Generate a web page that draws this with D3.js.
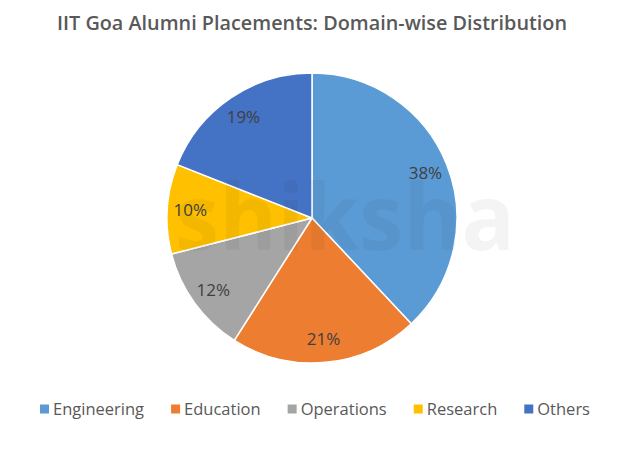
<!DOCTYPE html>
<html><head><meta charset="utf-8">
<script src="https://cdn.jsdelivr.net/npm/d3@7"></script>
<style>body{margin:0;background:#fff}svg{display:block}</style>
</head><body>
<svg id="chart" width="620" height="453"></svg>
<script>
const categories = ["Engineering", "Education", "Operations", "Research", "Others"];
const values = [38, 21, 12, 10, 19];
const colors = ["#5B9BD5", "#ED7D31", "#A5A5A5", "#FFC000", "#4472C4"];
const title = "IIT Goa Alumni Placements: Domain-wise Distribution";

const W = 620, H = 453;
const svg = d3.select("#chart");
svg.append("rect").attr("width", W).attr("height", H).attr("fill", "#fff");

const font = "'Open Sans', 'Liberation Sans', sans-serif";

svg.append("text").attr("x", 312).attr("y", 30).attr("text-anchor", "middle")
  .attr("font-family", font).attr("font-weight", 600).attr("font-size", 19)
  .attr("fill", "#595959").attr("textLength", 510).attr("lengthAdjust", "spacingAndGlyphs")
  .text(title);

const data = categories.map((c, i) => ({cat: c, value: values[i]}));
const color = d3.scaleOrdinal().domain(categories).range(colors);
const pie = d3.pie().value(d => d.value).sort(null);
const cx = 312, cy = 218, R = 145;
const arc = d3.arc().innerRadius(0).outerRadius(R);
const labelArc = d3.arc().innerRadius(122).outerRadius(122);

const g = svg.append("g").attr("transform", `translate(${cx},${cy})`);
const arcs = pie(data);
g.selectAll("path").data(arcs).join("path")
  .attr("d", arc).attr("fill", d => color(d.data.cat))
  .attr("stroke", "#fff").attr("stroke-width", 1.5).attr("stroke-linejoin", "round");

// faint watermark
svg.append("text").attr("x", 345).attr("y", 250).attr("text-anchor", "middle")
  .attr("font-family", "'Open Sans', sans-serif").attr("font-weight", 700).attr("font-size", 92)
  .attr("fill", "#000").attr("fill-opacity", 0.045).attr("textLength", 340).attr("lengthAdjust", "spacingAndGlyphs")
  .text("shiksha");

g.selectAll("text.lbl").data(arcs).join("text").attr("class", "lbl")
  .attr("transform", d => `translate(${labelArc.centroid(d)})`)
  .attr("text-anchor", "middle").attr("dy", "0.35em")
  .attr("font-family", font).attr("font-size", 17).attr("fill", "#404040")
  .text(d => d.data.value + "%");

// legend
const leg = svg.append("g").attr("font-family", font).attr("font-size", 16.5).attr("fill", "#595959");
const items = leg.selectAll("g").data(categories).join("g");
items.append("rect").attr("width", 9).attr("height", 9).attr("y", -10.5).attr("fill", d => color(d));
items.append("text").attr("x", 13).attr("y", 0).text(d => d);
let widths = [];
items.each(function(){ widths.push(13 + d3.select(this).select("text").node().getComputedTextLength()); });
const x0 = 40, x1 = 590;
const gap = (x1 - x0 - d3.sum(widths)) / (widths.length - 1);
let x = x0;
items.attr("transform", (d, i) => { const t = `translate(${x},415)`; x += widths[i] + gap; return t; });
</script>
</body></html>
